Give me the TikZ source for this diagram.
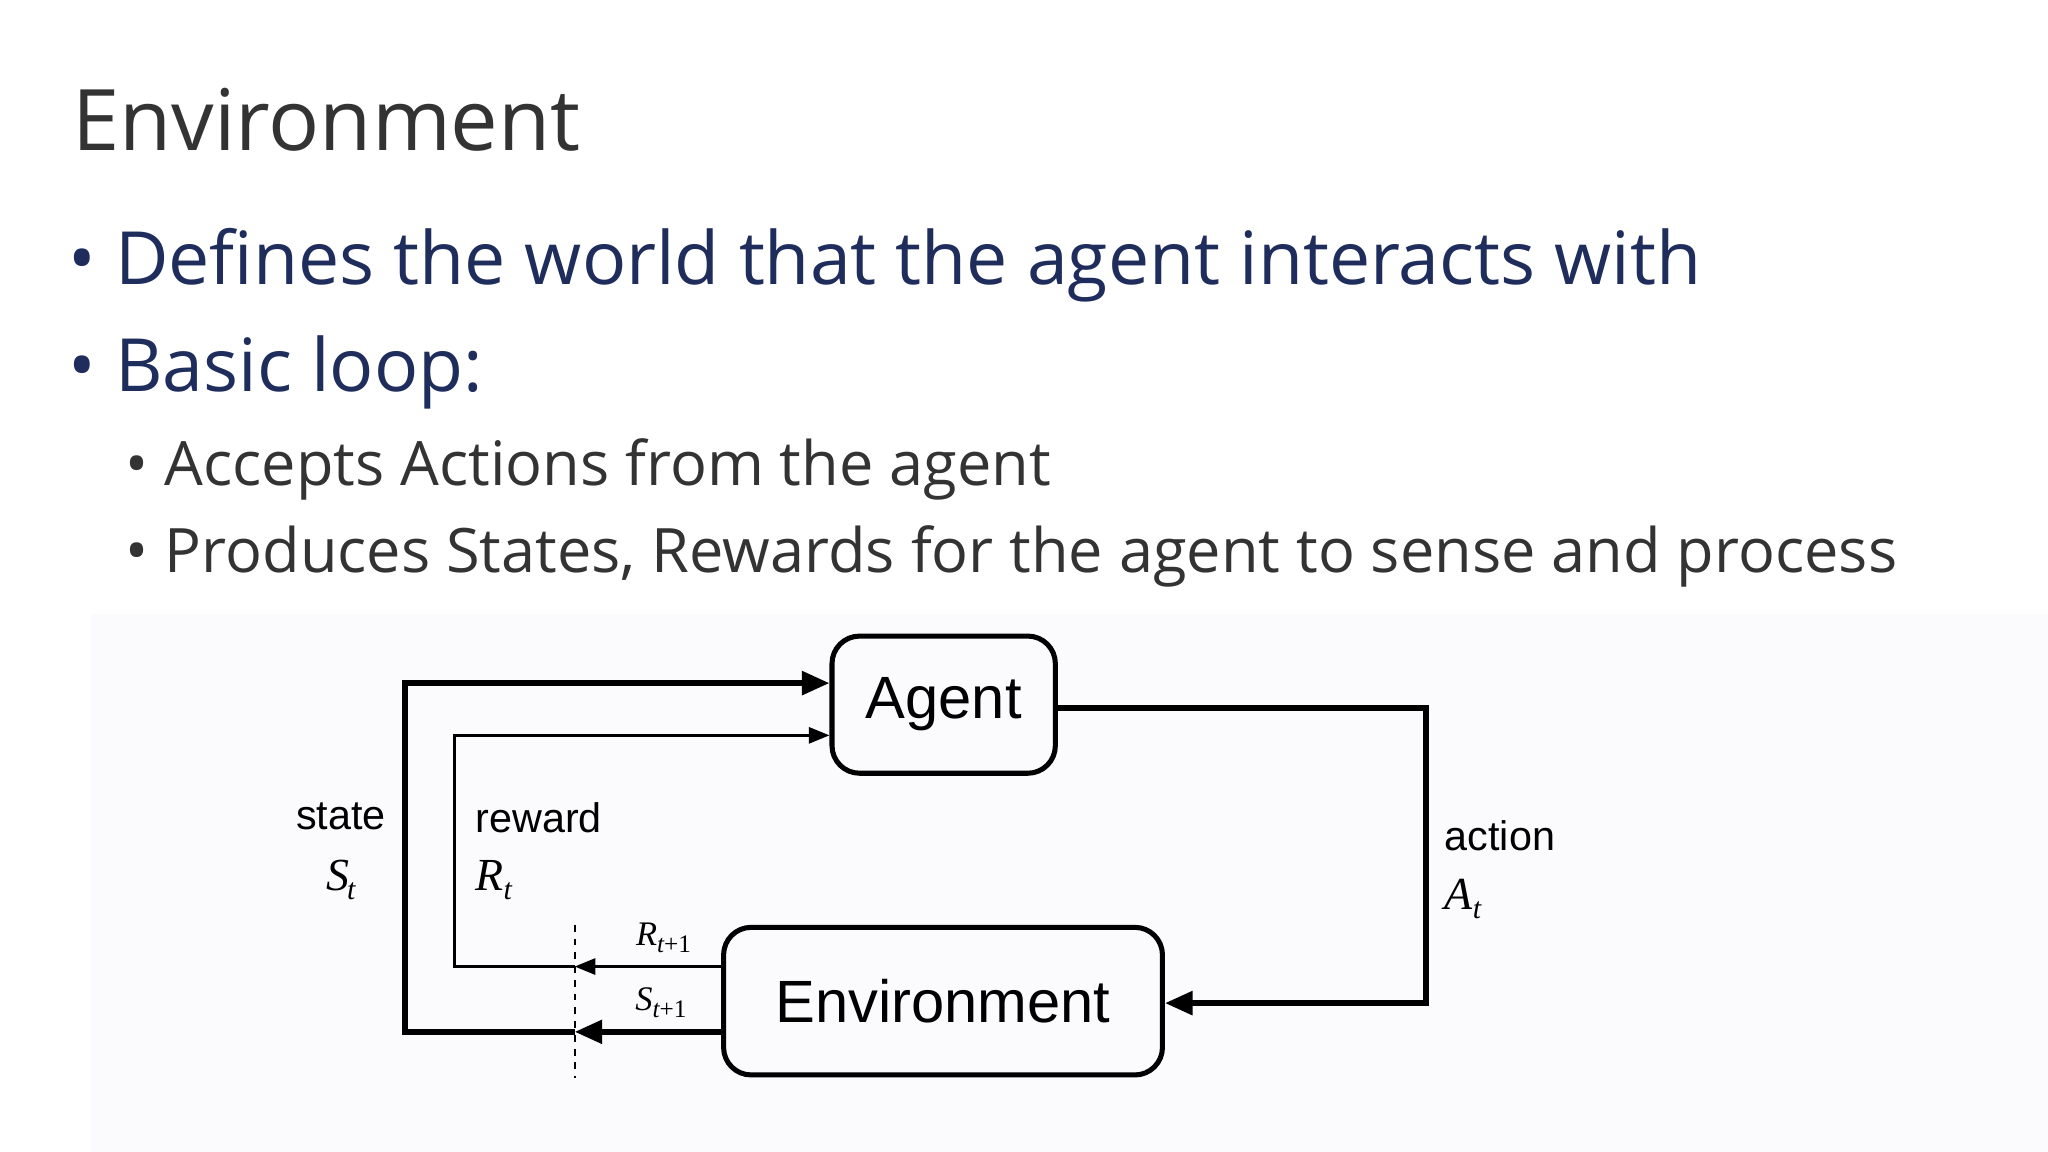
\documentclass[tikz,border=0pt]{standalone}
\usepackage{fontspec}
\setmainfont{Open Sans}
\newfontfamily\dfont{Liberation Sans}
\newfontfamily\mfont{Liberation Serif}
\usetikzlibrary{arrows.meta}
\definecolor{navy}{HTML}{1F2D5C}
\definecolor{ink}{HTML}{333333}
\definecolor{bgg}{HTML}{FBFAFC}
\begin{document}
\begin{tikzpicture}[x=0.02cm,y=-0.02cm,
  box/.style={draw,line width=2.2pt,rounded corners=12pt,font=\dfont\fontsize{26}{30}\selectfont},
  thick2/.style={line width=2.5pt},
  thin2/.style={line width=1.2pt},
  lbl/.style={font=\dfont\fontsize{18}{20}\selectfont},
  mlbl/.style={font=\mfont\itshape\fontsize{20}{22}\selectfont},
  slbl/.style={font=\mfont\itshape\fontsize{15}{17}\selectfont}]
\useasboundingbox (0,0) rectangle (1568,882);
\fill[white] (0,0) rectangle (1568,882);
\fill[bgg] (70,470) rectangle (1568,882);
\node[anchor=base west,inner sep=0,text=ink,font=\fontsize{37}{42}\selectfont] (title) at (55,115) {Environment};
\node[anchor=base west,inner sep=0,text=navy,font=\fontsize{32}{38}\selectfont] (b1) at (52,218) {\textbullet\ Defines the world that the agent interacts with};
\node[anchor=base west,inner sep=0,text=navy,font=\fontsize{32}{38}\selectfont] (b2) at (52,300) {\textbullet\ Basic loop:};
\node[anchor=base west,inner sep=0,text=ink,font=\fontsize{26.7}{32}\selectfont] (s1) at (96,372) {\textbullet\ Accepts Actions from the agent};
\node[anchor=base west,inner sep=0,text=ink,font=\fontsize{26.7}{32}\selectfont] (s2) at (96,438) {\textbullet\ Produces States, Rewards for the agent to sense and process};
\node[box,minimum width=171*0.02cm,minimum height=105*0.02cm] (agent) at (722.5,539.5) {Agent};
\node[box,minimum width=336*0.02cm,minimum height=113*0.02cm] (env) at (722,766.5) {Environment};
\coordinate (d1) at (440,708); \coordinate (d2) at (440,825);
\draw[dashed,line width=0.8pt] (d1) -- (d2);
% state
\coordinate (sa) at (440,790); \coordinate (sb) at (310,790); \coordinate (sc) at (310,523);
\draw[thick2,-{Triangle[length=12pt,width=10pt]}] (env.west |- sa) -- (sa);
\draw[thick2,-{Triangle[length=12pt,width=10pt]}] (sa) -- (sb) -- (sc) -- (agent.west |- sc);
% reward
\coordinate (ra) at (440,740); \coordinate (rb) at (348,740); \coordinate (rc) at (348,563);
\draw[thin2,-{Triangle[length=9pt,width=7pt]}] (env.west |- ra) -- (ra);
\draw[thin2,-{Triangle[length=9pt,width=7pt]}] (ra) -- (rb) -- (rc) -- (agent.west |- rc);
% action
\coordinate (aa) at (1092,542); \coordinate (ab) at (1092,768);
\draw[thick2,-{Triangle[length=12pt,width=10pt]}] (agent.east |- aa) -- (aa) -- (ab) -- (env.east |- ab);
\node[lbl] (ls) at (261,625) {state};
\node[mlbl] (lS) at (261,674) {S\kern-1pt\raisebox{-4pt}{\fontsize{13}{14}\selectfont t}};
\node[lbl,anchor=west] (lr) at (358,626) {reward};
\node[mlbl,anchor=west] (lR) at (358,674) {R\raisebox{-4pt}{\fontsize{13}{14}\selectfont t}};
\node[lbl,anchor=west] (la) at (1100,640) {action};
\node[mlbl,anchor=west] (lA) at (1100,688) {A\raisebox{-4pt}{\fontsize{13}{14}\selectfont t}};
\node[slbl] (lR1) at (508,718) {R\raisebox{-3pt}{\fontsize{11}{12}\selectfont t\upshape+1}};
\node[slbl] (lS1) at (506,768) {S\raisebox{-3pt}{\fontsize{11}{12}\selectfont t\upshape+1}};
\end{tikzpicture}
\end{document}
